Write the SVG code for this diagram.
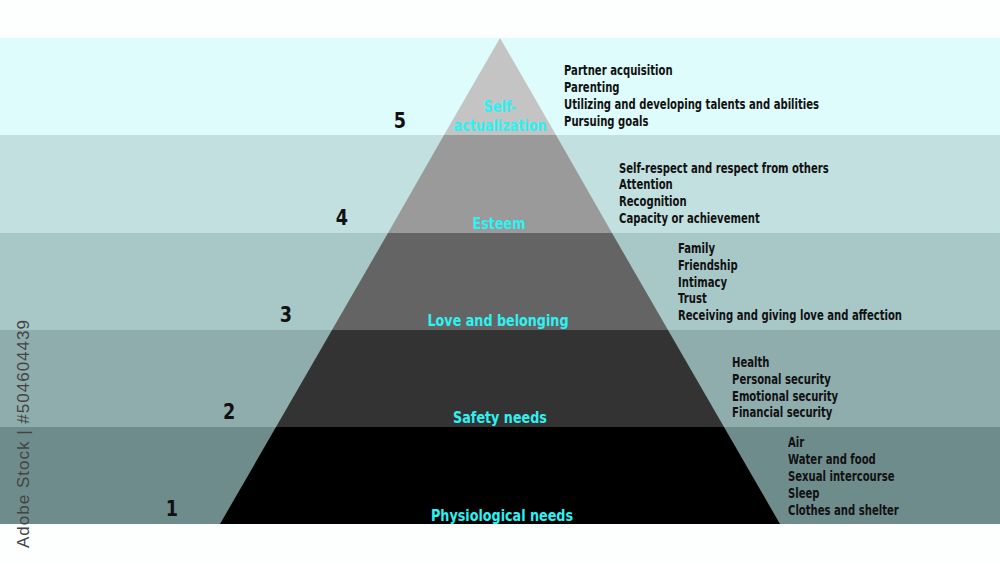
<svg xmlns="http://www.w3.org/2000/svg" width="1000" height="563" viewBox="0 0 1000 563">
<style>
.t,.c,.n{font-family:"DejaVu Sans","Liberation Sans",sans-serif;font-weight:bold}
.t{font-size:14px;fill:#111}
.c{font-size:15px;fill:#2ef2f2;text-anchor:middle}
.n{font-size:22px;fill:#111;text-anchor:middle}
</style>
<rect width="1000" height="563" fill="#fdfefe"/>
<g id="bands">
<rect x="0" y="38" width="1000" height="97" fill="#defcfc"/>
<rect x="0" y="135" width="1000" height="98" fill="#c2e0e0"/>
<rect x="0" y="233" width="1000" height="97" fill="#a8c8c8"/>
<rect x="0" y="330" width="1000" height="97" fill="#8fadad"/>
<rect x="0" y="427" width="1000" height="97" fill="#6f8c8c"/>
</g>
<g id="level5"><polygon points="500,38 444,135 556,135" fill="#c4c4c4"/>
<g transform="translate(500,0) scale(0.85,1)"><text class="c" x="0" y="112">Self-</text><text class="c" x="0" y="131">actualization</text></g>
<text class="n" x="400" y="128" transform="translate(80,0) scale(0.8,1)">5</text>
<g transform="translate(564,0) scale(0.72,1)"><text class="t" x="0" y="75">Partner acquisition</text><text class="t" x="0" y="92">Parenting</text><text class="t" x="0" y="109">Utilizing and developing talents and abilities</text><text class="t" x="0" y="126">Pursuing goals</text></g></g>
<g id="level4"><polygon points="444,135 556,135 612,233 388,233" fill="#9a9a9a"/>
<g transform="translate(499,0) scale(0.85,1)"><text class="c" x="0" y="229">Esteem</text></g>
<text class="n" x="342" y="225" transform="translate(68.4,0) scale(0.8,1)">4</text>
<g transform="translate(619,0) scale(0.72,1)"><text class="t" x="0" y="173">Self-respect and respect from others</text><text class="t" x="0" y="189">Attention</text><text class="t" x="0" y="206">Recognition</text><text class="t" x="0" y="223">Capacity or achievement</text></g></g>
<g id="level3"><polygon points="388,233 612,233 668,330 332,330" fill="#646464"/>
<g transform="translate(498,0) scale(0.85,1)"><text class="c" x="0" y="326">Love and belonging</text></g>
<text class="n" x="286" y="322" transform="translate(57.2,0) scale(0.8,1)">3</text>
<g transform="translate(678,0) scale(0.72,1)"><text class="t" x="0" y="253">Family</text><text class="t" x="0" y="270">Friendship</text><text class="t" x="0" y="287">Intimacy</text><text class="t" x="0" y="303">Trust</text><text class="t" x="0" y="320">Receiving and giving love and affection</text></g></g>
<g id="level2"><polygon points="332,330 668,330 724,427 276,427" fill="#333333"/>
<g transform="translate(500,0) scale(0.85,1)"><text class="c" x="0" y="423">Safety needs</text></g>
<text class="n" x="229" y="419" transform="translate(45.8,0) scale(0.8,1)">2</text>
<g transform="translate(732,0) scale(0.72,1)"><text class="t" x="0" y="367">Health</text><text class="t" x="0" y="384">Personal security</text><text class="t" x="0" y="401">Emotional security</text><text class="t" x="0" y="417">Financial security</text></g></g>
<g id="level1"><polygon points="276,427 724,427 780,524 220,524" fill="#000000"/>
<g transform="translate(502,0) scale(0.85,1)"><text class="c" x="0" y="521">Physiological needs</text></g>
<text class="n" x="172" y="516" transform="translate(34.4,0) scale(0.8,1)">1</text>
<g transform="translate(788,0) scale(0.72,1)"><text class="t" x="0" y="447">Air</text><text class="t" x="0" y="464">Water and food</text><text class="t" x="0" y="481">Sexual intercourse</text><text class="t" x="0" y="498">Sleep</text><text class="t" x="0" y="515">Clothes and shelter</text></g></g>
<text transform="translate(29,548) rotate(-90)" font-family="Liberation Sans,sans-serif" font-size="17" fill="#444" textLength="228">Adobe Stock | #504604439</text>
</svg>
